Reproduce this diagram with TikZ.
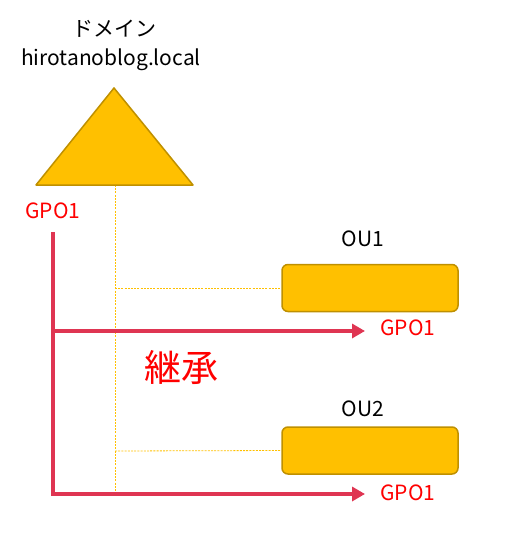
\documentclass[tikz,border=0pt]{standalone}
\usepackage{fontspec}
\setmainfont{Noto Sans CJK JP}
\usetikzlibrary{positioning}
\usetikzlibrary{arrows.meta}
\definecolor{ougold}{HTML}{FFC000}
\definecolor{oudark}{HTML}{BF9000}
\definecolor{linkred}{HTML}{DF3552}

\begin{document}
\begin{tikzpicture}[x=1pt,y=-1pt,
  lbl/.style={font=\fontsize{21}{25}\selectfont},
  gpo/.style={font=\fontsize{21}{25}\selectfont,text=red},
  oubox/.style={draw=oudark,fill=ougold,line width=1.5pt,rounded corners=6pt,minimum width=176pt,minimum height=47pt},
  tie/.style={draw=ougold,line width=0.8pt,dash pattern=on 2pt off 1.2pt},
  inherit/.style={draw=linkred,line width=4pt}]
\useasboundingbox (0,0) rectangle (519,540);

\node[lbl](dom) at (114,29){ドメイン};
\node[lbl](fqdn) at (111,60){hirotanoblog.local};
\coordinate (apex) at (114,88);
\coordinate (baseL) at (36,185);
\coordinate (baseR) at (193,185);
\coordinate (stem) at (115,185);
\coordinate (stemEnd) at (115,494);
\coordinate (hook1) at (115,288);
\coordinate (hook2) at (115,451);

\node[oubox](ou1) at (370,288){};
\node[oubox](ou2) at (370,450.5){};
\node[lbl](ou1lbl) at (363,239){OU1};
\node[lbl](ou2lbl) at (363,409){OU2};

\node[gpo](gpoD) at (53,211){GPO1};
\node[gpo](gpo1) at (408,328){GPO1};
\node[gpo](gpo2) at (408,493){GPO1};
\node[font=\fontsize{37}{40}\selectfont,text=red](keisho) at (181,367){継承};

\coordinate (redTop) at (53,232);
\coordinate (redCorner) at (53,494);
\coordinate (branch) at (53,331);
\coordinate (arr1) at (365,331);
\coordinate (arr2) at (365,494);

% tie lines
\draw[tie] (stem) -- (stemEnd);
\draw[tie] (hook1) -- (ou1.west);
\draw[tie] (hook2) -- (ou2.west);

\draw[draw=oudark,fill=ougold,line width=1.5pt,line join=round] (apex) -- (baseR) -- (baseL) -- cycle;

% inheritance
\draw[inherit,-{Triangle[length=13pt,width=14pt]}] (redTop) -- (redCorner) -- (arr2);
\draw[inherit,-{Triangle[length=13pt,width=14pt]}] (branch) -- (arr1);
\end{tikzpicture}
\end{document}
